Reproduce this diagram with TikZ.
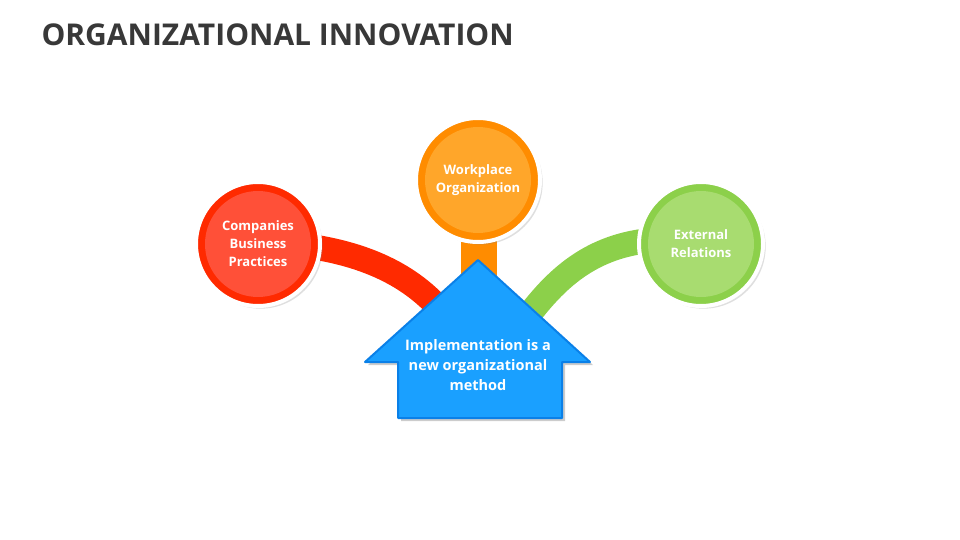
\documentclass[tikz,border=0pt]{standalone}
\usepackage{fontspec}
\setmainfont{Open Sans}
\usetikzlibrary{shadows}
\begin{document}
\begin{tikzpicture}[x=1pt,y=-1pt,
  ctext/.style={text=white,font=\bfseries\fontsize{13}{18}\selectfont,align=center},
  bubble/.style={circle,minimum size=124pt,draw=white,line width=4pt,inner sep=0pt,drop shadow={opacity=0.25}}]
\useasboundingbox (0,0) rectangle (960,540);
\definecolor{redA}{HTML}{FF2A00}\definecolor{redB}{HTML}{FF5038}
\definecolor{orA}{HTML}{FF8C00}\definecolor{orB}{HTML}{FFA62A}
\definecolor{grA}{HTML}{8CD04A}\definecolor{grB}{HTML}{A8DC70}
\definecolor{blA}{HTML}{0A80E8}\definecolor{blB}{HTML}{1AA0FF}
\node[anchor=west,text=black!78,font=\bfseries\fontsize{30}{36}\selectfont] (title) at (38,35) {ORGANIZATIONAL INNOVATION};
% connectors
\coordinate (rs) at (300,245);
\coordinate (re) at (445,315);
\coordinate (gs) at (655,240);
\coordinate (ge) at (525,320);
\draw[redA,line width=25pt] (rs) .. controls (380,255) and (420,285) .. (re);
\draw[grA,line width=25pt] (gs) .. controls (590,245) and (555,280) .. (ge);
\fill[orA] (461,230) rectangle (497,290);
% circles
\node[bubble,fill=redA] (c1) at (258,244) {};
\node[circle,minimum size=106pt,fill=redB] at (c1) {};
\node[ctext] at (c1) {Companies\\Business\\Practices};
\node[bubble,fill=orA] (c2) at (478,180) {};
\node[circle,minimum size=106pt,fill=orB] at (c2) {};
\node[ctext] at (c2) {Workplace\\Organization};
\node[bubble,fill=grA] (c3) at (701,244) {};
\node[circle,minimum size=106pt,fill=grB] at (c3) {};
\node[ctext] at (c3) {External\\Relations};
% house
\fill[black!20] (480,263) -- (593,365) -- (565,365) -- (565,421) -- (401,421) -- (401,365) -- (368,365) -- cycle;
\filldraw[fill=blB,draw=blA,line width=2pt,line join=round] (478,260) -- (590,362) -- (562,362) -- (562,418) -- (398,418) -- (398,362) -- (365,362) -- cycle;
\node[ctext,font=\bfseries\fontsize{14.5}{20}\selectfont] (h) at (478,365) {Implementation is a\\new organizational\\method};
\end{tikzpicture}
\end{document}
